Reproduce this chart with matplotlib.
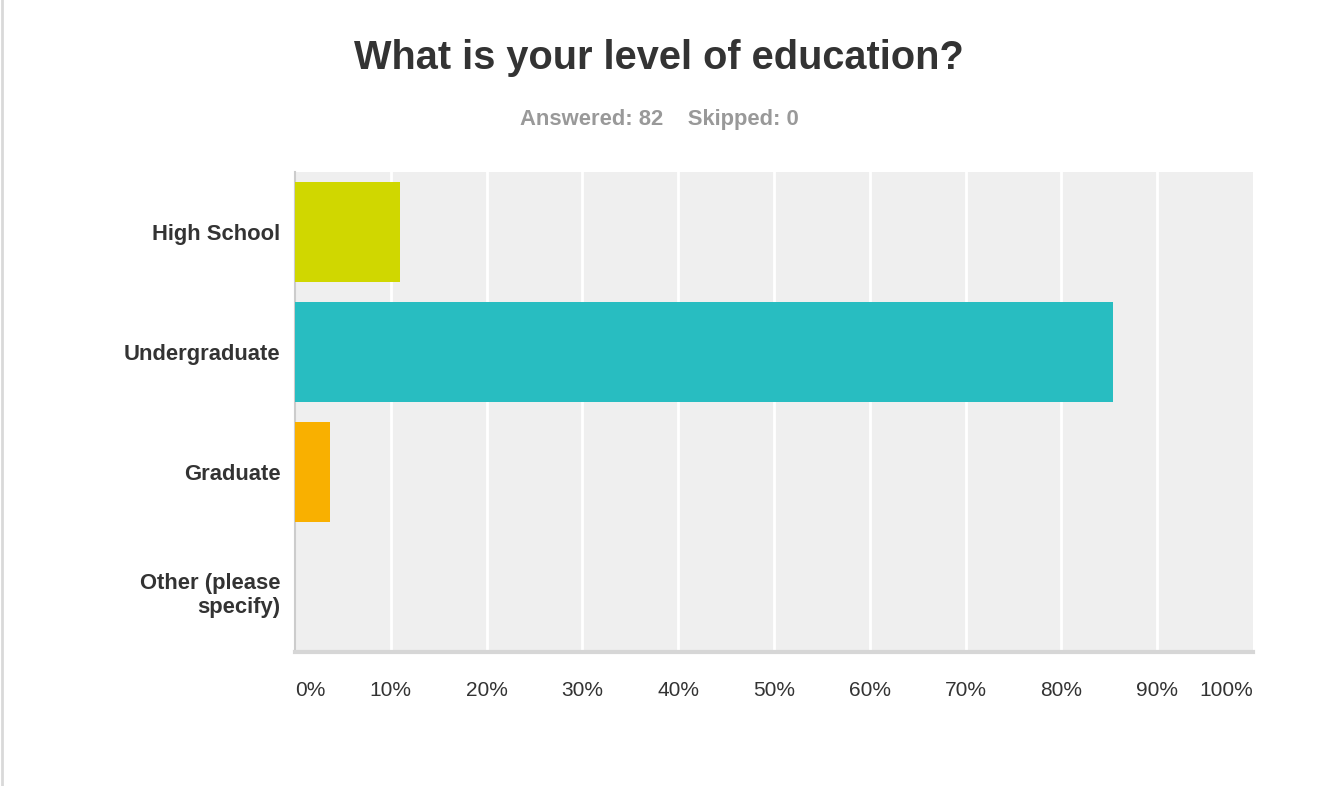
import matplotlib.pyplot as plt
from matplotlib.lines import Line2D
from matplotlib.ticker import FixedLocator

plt.rcParams['font.family'] = ['Liberation Sans', 'DejaVu Sans']

# survey answers (percent of 82 respondents)
categories = ['High School', 'Undergraduate', 'Graduate', 'Other (please\nspecify)']
percents = [10.98, 85.37, 3.66, 0.0]
colors = ['#d0d700', '#28bdc1', '#f9b000', '#7f7f7f']
tick_vals = [0, 10, 20, 30, 40, 50, 60, 70, 80, 90, 100]
tick_labels = ['0%', '10%', '20%', '30%', '40%', '50%', '60%', '70%', '80%', '90%', '100%']

fig = plt.figure(figsize=(13.18, 7.86), dpi=100)
ax = fig.add_axes([295 / 1318, 1 - 652 / 786, 958 / 1318, 480 / 786])
ax.set_facecolor('#efefef')

ypos = list(range(len(categories)))
ax.barh(ypos, percents, height=0.833, color=colors, zorder=3)

ax.set_xlim(0, 100)
ax.set_ylim(len(categories) - 0.5, -0.5)

# white vertical grid
for v in tick_vals[1:-1]:
    ax.axvline(v, color='white', lw=2, zorder=1)

ax.xaxis.set_major_locator(FixedLocator(tick_vals))
ax.set_xticklabels(tick_labels, fontsize=15, color='#333333')
ax.tick_params(axis='x', length=0, pad=21)
labels = ax.get_xticklabels()
labels[0].set_ha('left')
labels[-1].set_ha('right')

ax.set_yticks(ypos)
ax.set_yticklabels(categories, fontsize=15.8, fontweight='bold', color='#333333',
                   linespacing=1.15)
ax.tick_params(axis='y', length=0, pad=10.5)

for s in ['top', 'right']:
    ax.spines[s].set_visible(False)
ax.spines['bottom'].set_color('#d6d6d6')
ax.spines['bottom'].set_linewidth(3)
ax.spines['left'].set_color('#cccccc')
ax.spines['left'].set_linewidth(1.5)

fig.text(659 / 1318, 1 - 58 / 786, 'What is your level of education?', ha='center', va='center',
         fontsize=28.6, fontweight='bold', color='#333333')
fig.text(659 / 1318, 1 - 119 / 786, 'Answered: 82    Skipped: 0', ha='center', va='center',
         fontsize=15.8, fontweight='bold', color='#999999')

# thin gray border on the left edge of the page
fig.add_artist(Line2D([2 / 1318, 2 / 1318], [0, 1], color='#d9d9d9', lw=2))

fig.savefig('out.png', dpi=100)
